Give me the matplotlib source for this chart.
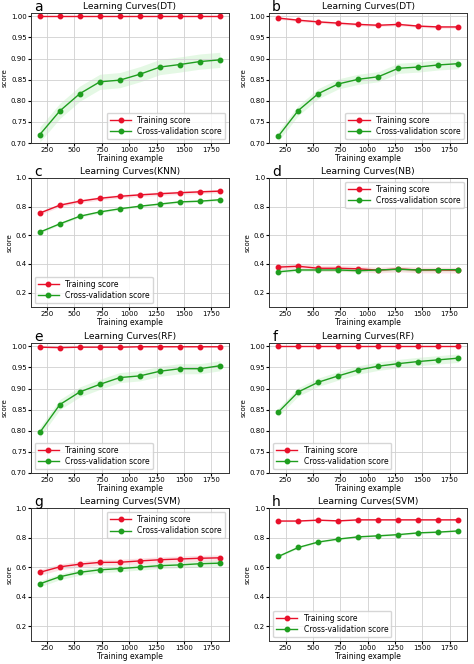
import matplotlib
matplotlib.use("Agg")
import matplotlib.pyplot as plt
import numpy as np

train_sizes = [183, 366, 549, 732, 915, 1098, 1281, 1464, 1647, 1830]

panel_letters = ['a', 'b', 'c', 'd', 'e', 'f', 'g', 'h']
panel_titles = ['Learning Curves(DT)', 'Learning Curves(DT)', 'Learning Curves(KNN)', 'Learning Curves(NB)',
                'Learning Curves(RF)', 'Learning Curves(RF)', 'Learning Curves(SVM)', 'Learning Curves(SVM)']

train_a = [1.0, 1.0, 1.0, 1.0, 1.0, 1.0, 1.0, 1.0, 1.0, 1.0]
cv_a = [0.720, 0.776, 0.817, 0.845, 0.849, 0.863, 0.880, 0.886, 0.893, 0.897]
train_b = [0.996, 0.991, 0.987, 0.984, 0.981, 0.979, 0.981, 0.977, 0.975, 0.975]
cv_b = [0.716, 0.777, 0.817, 0.840, 0.851, 0.857, 0.877, 0.880, 0.885, 0.888]
train_c = [0.755, 0.810, 0.838, 0.858, 0.872, 0.882, 0.890, 0.897, 0.903, 0.908]
cv_c = [0.622, 0.680, 0.733, 0.763, 0.785, 0.803, 0.818, 0.833, 0.838, 0.848]
train_d = [0.378, 0.384, 0.370, 0.370, 0.366, 0.357, 0.365, 0.358, 0.358, 0.357]
cv_d = [0.345, 0.358, 0.358, 0.358, 0.353, 0.358, 0.363, 0.358, 0.360, 0.360]
train_e = [0.998, 0.997, 0.998, 0.998, 0.998, 0.999, 0.999, 0.999, 0.999, 0.999]
cv_e = [0.796, 0.862, 0.892, 0.910, 0.926, 0.930, 0.941, 0.947, 0.947, 0.954]
train_f = [1.0, 1.0, 1.0, 1.0, 1.0, 1.0, 1.0, 1.0, 1.0, 1.0]
cv_f = [0.844, 0.892, 0.915, 0.930, 0.944, 0.953, 0.959, 0.964, 0.968, 0.972]
train_g = [0.565, 0.602, 0.620, 0.632, 0.633, 0.642, 0.650, 0.655, 0.660, 0.663]
cv_g = [0.487, 0.535, 0.565, 0.582, 0.590, 0.600, 0.610, 0.615, 0.623, 0.627]
train_h = [0.912, 0.912, 0.918, 0.913, 0.920, 0.920, 0.920, 0.920, 0.920, 0.920]
cv_h = [0.672, 0.733, 0.770, 0.790, 0.805, 0.812, 0.820, 0.832, 0.837, 0.845]

# spread of the shaded bands (std)
train_std = [0.0, 0.003, 0.012, 0.02, 0.001, 0.0, 0.02, 0.004]
cv_std = [0.018, 0.012, 0.008, 0.01, 0.012, 0.01, 0.02, 0.006]

train_all = [train_a, train_b, train_c, train_d, train_e, train_f, train_g, train_h]
cv_all = [cv_a, cv_b, cv_c, cv_d, cv_e, cv_f, cv_g, cv_h]
ylims = [(0.70, 1.008), (0.70, 1.008), (0.1, 1.0), (0.1, 1.0),
         (0.70, 1.008), (0.70, 1.008), (0.1, 1.0), (0.1, 1.0)]
legend_locs = ['lower right', 'lower right', 'lower left', 'upper right',
               'lower left', 'lower left', 'upper right', 'lower left']

red = '#e8102a'
green = '#1f9e1f'

fig = plt.figure(figsize=(4.74, 6.64), dpi=100)
lefts = [0.065, 0.568]
rows = [(0.7846, 0.1958), (0.5377, 0.1943), (0.2877, 0.1958), (0.0346, 0.2003)]

for i in range(8):
    bottom, height = rows[i // 2]
    ax = fig.add_axes([lefts[i % 2], bottom, 0.418, height])
    tr = np.array(train_all[i])
    cv = np.array(cv_all[i])
    ax.grid(True, color='#d0d0d0', linewidth=0.6)
    ax.fill_between(train_sizes, tr - train_std[i], tr + train_std[i], color=red, alpha=0.12, linewidth=0)
    ax.fill_between(train_sizes, cv - cv_std[i], cv + cv_std[i], color='#33cc33', alpha=0.13, linewidth=0)
    ax.plot(train_sizes, tr, 'o-', color=red, lw=1, ms=3.2, label='Training score')
    ax.plot(train_sizes, cv, 'o-', color=green, lw=1, ms=3.2, label='Cross-validation score')
    ax.set_ylim(*ylims[i])
    if ylims[i][0] == 0.70:
        ax.set_yticks(np.arange(0.70, 1.001, 0.05))
    else:
        ax.set_yticks([0.2, 0.4, 0.6, 0.8, 1.0])
    ax.set_xticks([250, 500, 750, 1000, 1250, 1500, 1750])
    ax.tick_params(labelsize=5, length=2, pad=1)
    ax.set_title(panel_titles[i], fontsize=6.5, pad=3)
    ax.set_xlabel('Training example', fontsize=5.5, labelpad=0.5)
    ax.set_ylabel('score', fontsize=5, labelpad=2)
    for s in ax.spines.values():
        s.set_color('#333333')
        s.set_linewidth(0.7)
    ax.legend(loc=legend_locs[i], fontsize=5.5, handlelength=2.8, borderpad=0.4, labelspacing=0.3)
    ax.text(0.015, 0.995, panel_letters[i], transform=ax.transAxes, fontsize=10, va='bottom', ha='left')

fig.savefig('out.png', dpi=100)
